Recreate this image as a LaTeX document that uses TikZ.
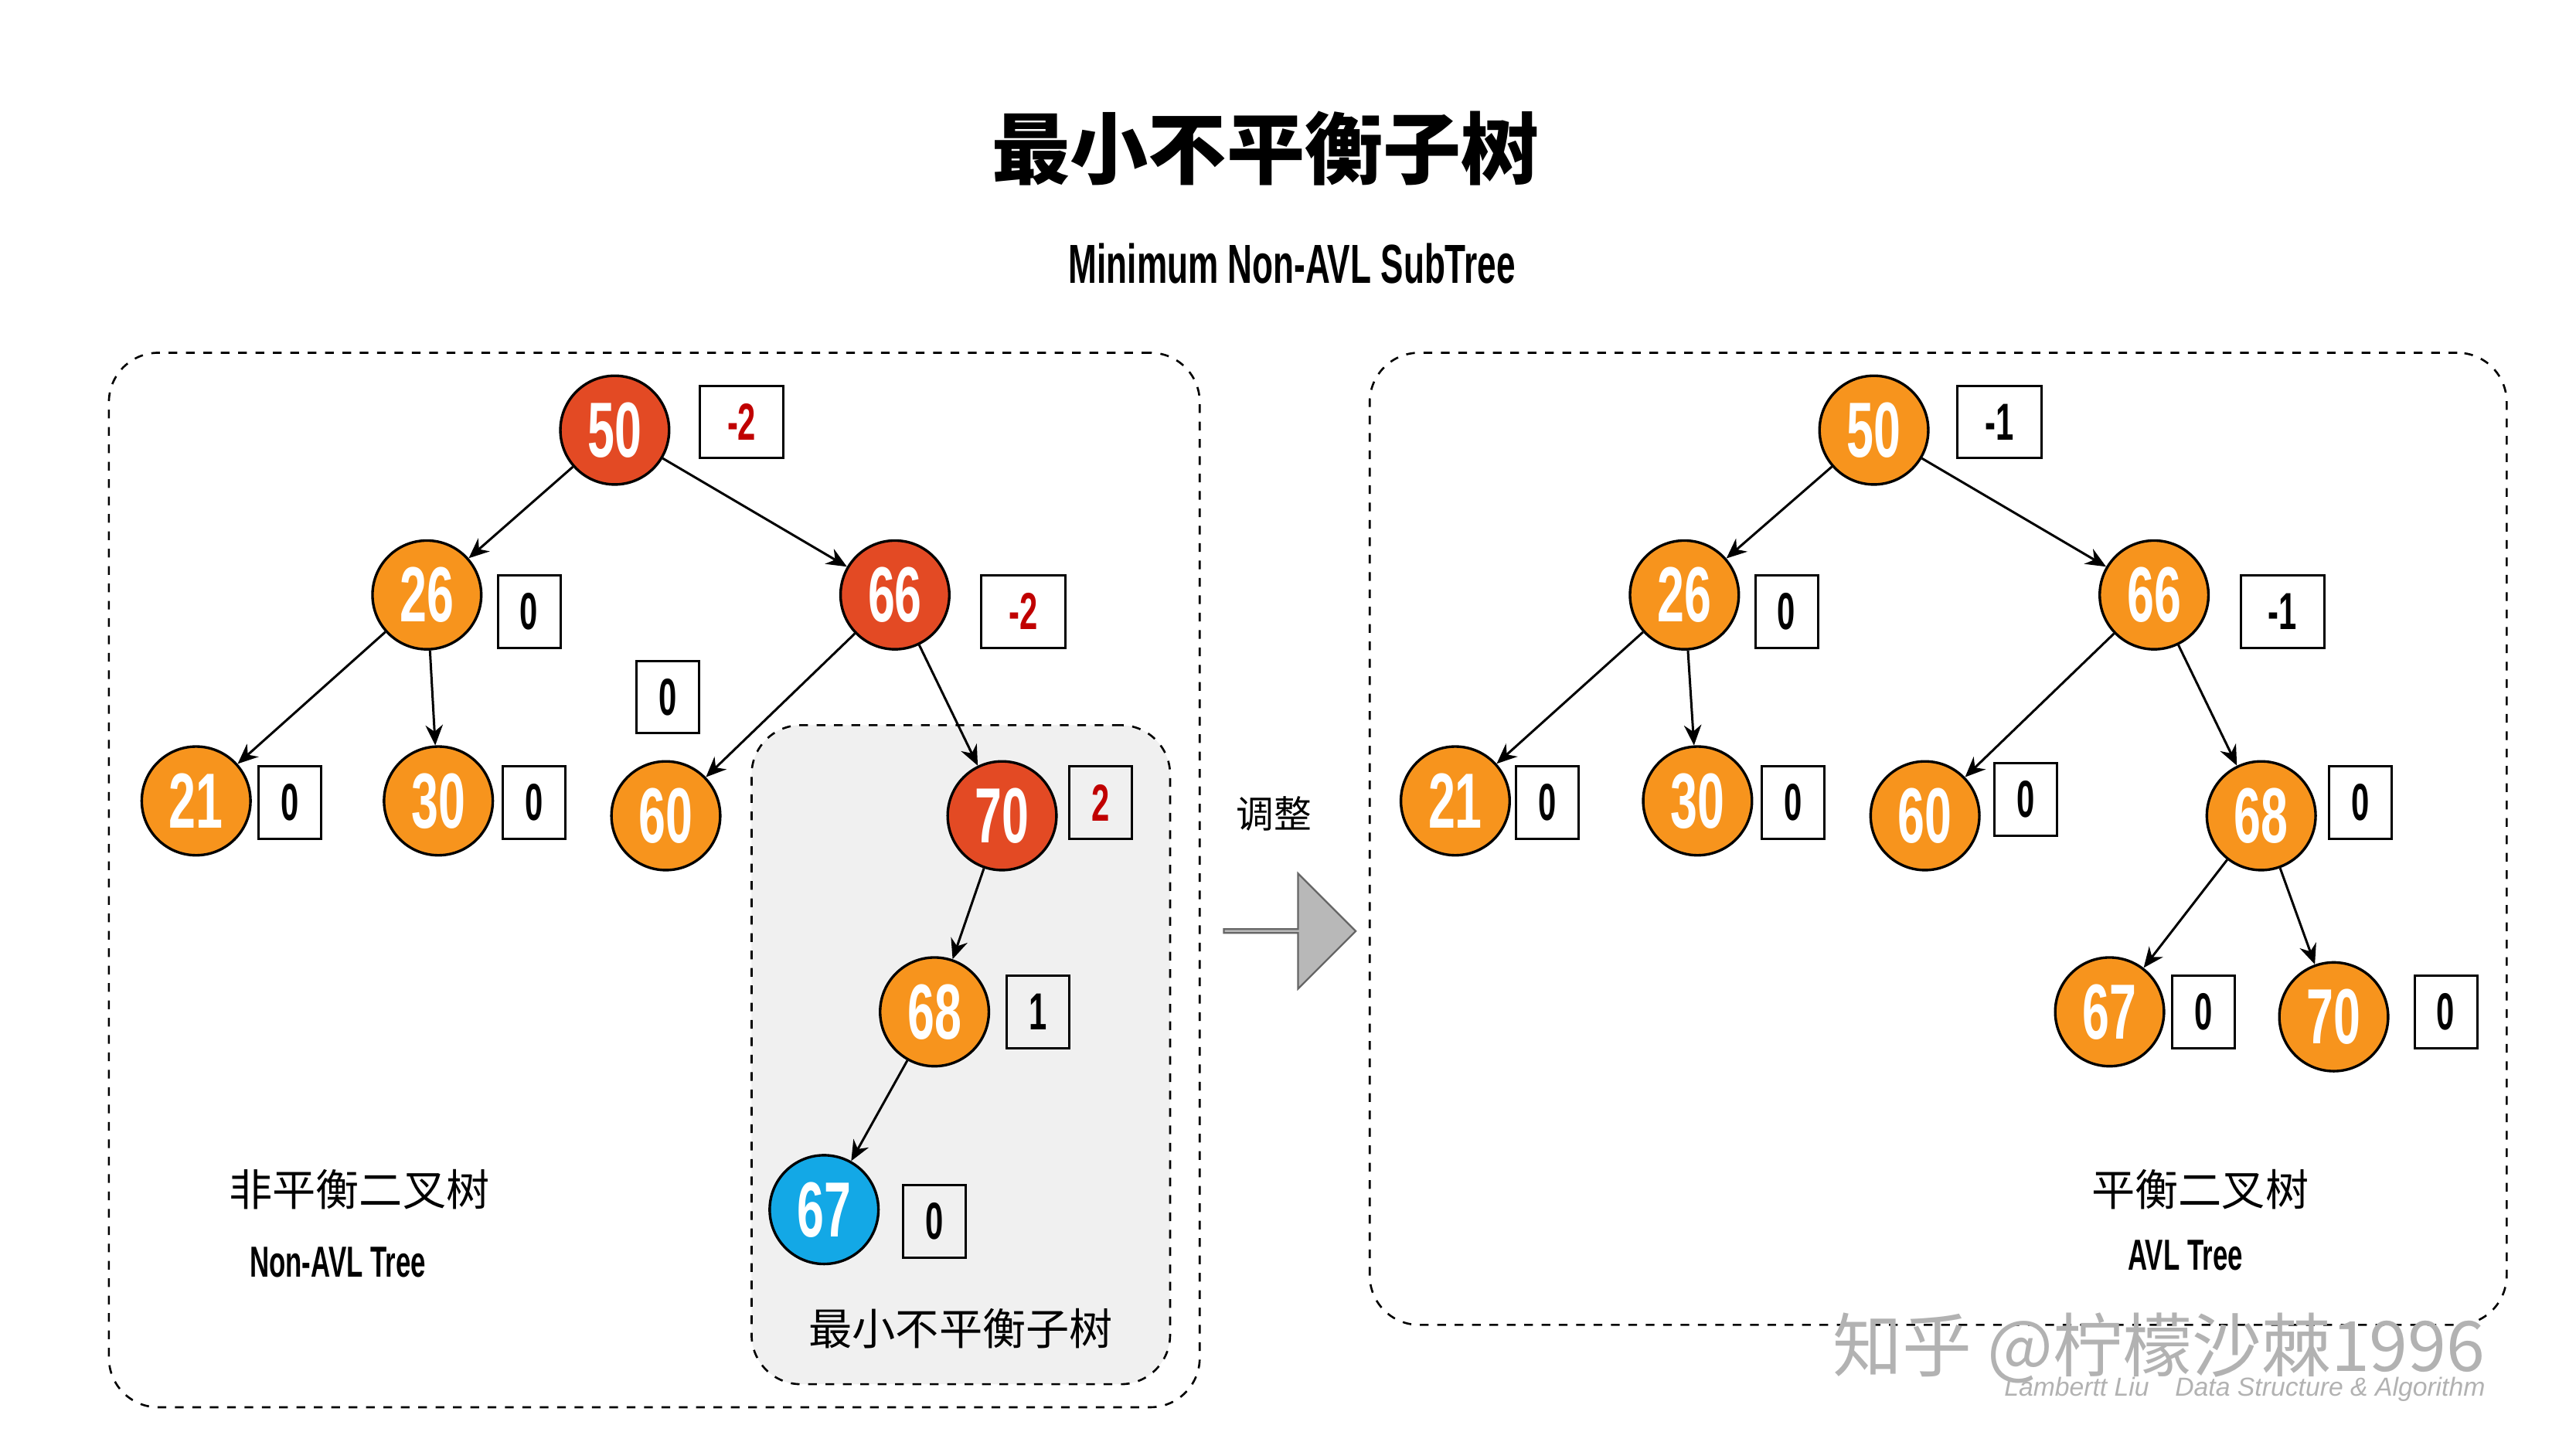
\documentclass[tikz,border=0pt]{standalone}
\usepackage{fontspec}
\setmainfont{Liberation Sans}
\newfontfamily\cjk{Noto Sans CJK SC}
\newfontfamily\numfont[FakeStretch=0.62]{Liberation Sans}
\usetikzlibrary{arrows.meta,shapes.arrows}
\definecolor{nred}{HTML}{E34A24}
\definecolor{norg}{HTML}{F7941D}
\definecolor{nblue}{HTML}{13A8E6}
\definecolor{bred}{HTML}{C00000}
\tikzset{
 tn/.style={circle,draw=black,line width=0.9pt,minimum size=1.32cm,inner sep=0pt,text=white,font=\numfont\bfseries\fontsize{27}{27}\selectfont},
 rn/.style={tn,fill=nred}, on/.style={tn,fill=norg}, bn/.style={tn,fill=nblue},
 bal/.style={draw=black,line width=0.8pt,minimum width=0.76cm,minimum height=0.88cm,inner sep=0pt,font=\numfont\bfseries\fontsize{18}{18}\selectfont},
 wbal/.style={bal,minimum width=1.02cm},
 ed/.style={-{Stealth[length=7pt,width=6pt]},line width=0.8pt},
 frame/.style={draw=black,dashed,line width=0.7pt,rounded corners=0.6cm},
 lab/.style={font=\cjk\fontsize{15}{15}\selectfont},
 elab/.style={font=\numfont\bfseries\fontsize{15}{15}\selectfont}
}
\begin{document}
\begin{tikzpicture}[x=0.02cm,y=-0.02cm]
\useasboundingbox (0,0) rectangle (1563,879);
\node[frame,minimum width=13.24cm,minimum height=12.8cm] (lbox) at (397,534) {};
\node[frame,fill=gray!12,minimum width=5.08cm,minimum height=8cm] (ibox) at (583,640) {};
\node[frame,minimum width=13.8cm,minimum height=11.8cm] (rbox) at (1176,509) {};
\node[font=\cjk\bfseries\fontsize{27}{27}\selectfont] (title) at (768,90) {最小不平衡子树};
\node[font=\numfont\bfseries\fontsize{19}{19}\selectfont] (sub) at (784,160) {Minimum Non-AVL SubTree};
% left tree
\node[rn] (a50) at (373,261) {50};
\node[on] (a26) at (259,361) {26};
\node[rn] (a66) at (543,361) {66};
\node[on] (a21) at (119,486) {21};
\node[on] (a30) at (266,486) {30};
\node[on] (a60) at (404,495) {60};
\node[rn] (a70) at (608,495) {70};
\node[on] (a68) at (567,614) {68};
\node[bn] (a67) at (500,734) {67};
\draw[ed] (a50) -- (a26); \draw[ed] (a50) -- (a66);
\draw[ed] (a26) -- (a21); \draw[ed] (a26) -- (a30);
\draw[ed] (a66) -- (a60); \draw[ed] (a66) -- (a70);
\draw[ed] (a70) -- (a68); \draw[ed] (a68) -- (a67);
\node[wbal,text=bred] (b50) at (450,256) {-2};
\node[bal] (b26) at (321,371) {0};
\node[wbal,text=bred] (b66) at (621,371) {-2};
\node[bal] (b60) at (405,423) {0};
\node[bal] (b21) at (176,487) {0};
\node[bal] (b30) at (324,487) {0};
\node[bal,text=bred] (b70) at (668,487) {2};
\node[bal] (b68) at (630,614) {1};
\node[bal] (b67) at (567,741) {0};
\node[lab] (l1) at (218,722) {非平衡二叉树};
\node[elab] (l2) at (205,766) {Non-AVL Tree};
\node[lab] (l3) at (583,806) {最小不平衡子树};
% arrow
\node[single arrow,draw=black!60,fill=black!28,line width=0.6pt,minimum height=1.6cm,minimum width=1.4cm,single arrow head extend=0.3cm,inner sep=0pt] (arr) at (782,565) {};
\node[lab,font=\cjk\fontsize{13}{13}\selectfont] (adj) at (773,494) {调整};
% right tree
\node[on] (c50) at (1137,261) {50};
\node[on] (c26) at (1022,361) {26};
\node[on] (c66) at (1307,361) {66};
\node[on] (c21) at (883,486) {21};
\node[on] (c30) at (1030,486) {30};
\node[on] (c60) at (1168,495) {60};
\node[on] (c68) at (1372,495) {68};
\node[on] (c67) at (1280,614) {67};
\node[on] (c70) at (1416,617) {70};
\draw[ed] (c50) -- (c26); \draw[ed] (c50) -- (c66);
\draw[ed] (c26) -- (c21); \draw[ed] (c26) -- (c30);
\draw[ed] (c66) -- (c60); \draw[ed] (c66) -- (c68);
\draw[ed] (c68) -- (c67); \draw[ed] (c68) -- (c70);
\node[wbal] (d50) at (1213,256) {-1};
\node[bal] (d26) at (1084,371) {0};
\node[wbal] (d66) at (1385,371) {-1};
\node[bal] (d21) at (939,487) {0};
\node[bal] (d30) at (1088,487) {0};
\node[bal] (d60) at (1229,485) {0};
\node[bal] (d68) at (1432,487) {0};
\node[bal] (d67) at (1337,614) {0};
\node[bal] (d70) at (1484,614) {0};
\node[lab] (r1) at (1335,722) {平衡二叉树};
\node[elab] (r2) at (1326,762) {AVL Tree};
% watermark
\node[text=black!30,font=\cjk\fontsize{24}{24}\selectfont] (wm) at (1310,818) {知乎 @柠檬沙棘1996};
\node[text=black!30,font=\itshape\fontsize{9}{9}\selectfont] (wm2) at (1362,843) {Lambertt Liu\quad Data Structure \& Algorithm};
\end{tikzpicture}
\end{document}
